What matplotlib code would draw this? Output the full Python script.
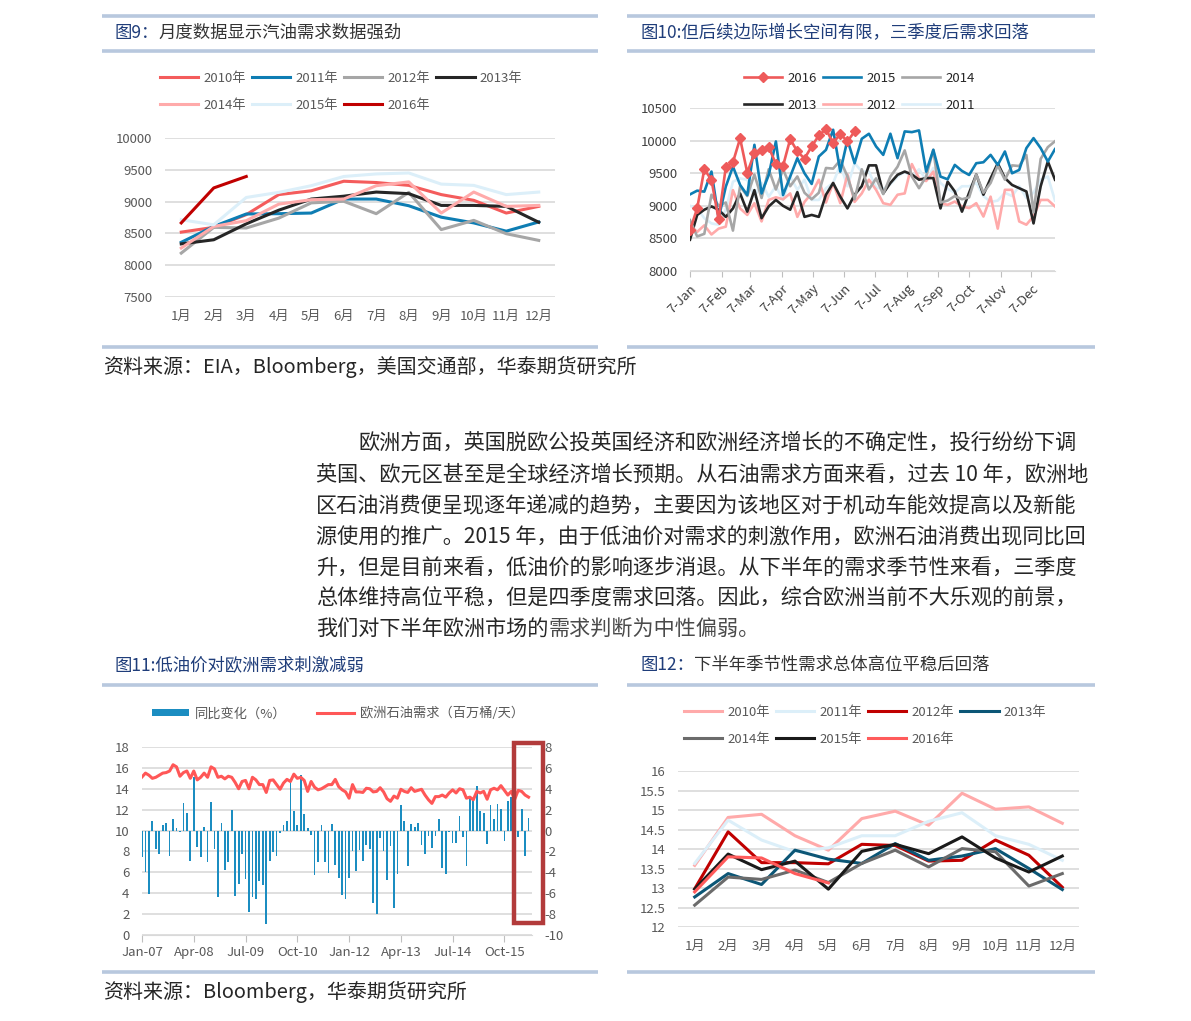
import numpy as np
import matplotlib
matplotlib.use("Agg")
import matplotlib.pyplot as plt
from matplotlib.patches import Rectangle

plt.rcParams["font.family"] = ["Noto Sans CJK SC", "DejaVu Sans"]
plt.rcParams["axes.unicode_minus"] = False

W, H = 1191, 1021

# ── 图9: US gasoline demand, monthly (kb/d) ─────────────────────────────────
month_labels = ["1月", "2月", "3月", "4月", "5月", "6月",
                "7月", "8月", "9月", "10月", "11月", "12月"]
gas_years = ["2010年", "2011年", "2012年", "2013年", "2014年", "2015年", "2016年"]
gas_2010 = [8520, 8595, 8795, 9110, 9170, 9320, 9300, 9255, 9110, 9020, 8820, 8925]
gas_2011 = [8360, 8610, 8805, 8810, 8820, 9040, 9040, 8935, 8755, 8665, 8535, 8680]
gas_2012 = [8190, 8595, 8585, 8740, 8980, 9005, 8810, 9145, 8560, 8705, 8495, 8390]
gas_2013 = [8335, 8400, 8650, 8865, 9040, 9085, 9150, 9125, 8940, 8940, 8925, 8675]
gas_2014 = [8270, 8610, 8700, 8960, 9030, 9040, 9250, 9310, 8820, 9150, 8925, 8940]
gas_2015 = [8715, 8635, 9065, 9145, 9250, 9395, 9435, 9450, 9275, 9255, 9110, 9150]
gas_2016 = [8665, 9215, 9395]

# ── 图10: weekly demand ───────────────────────────────────────────────────
wk_tick_labels = ["7-Jan", "7-Feb", "7-Mar", "7-Apr", "7-May", "7-Jun",
                  "7-Jul", "7-Aug", "7-Sep", "7-Oct", "7-Nov", "7-Dec"]
wk_tick_days = [0, 31, 59, 90, 120, 151, 181, 212, 243, 273, 304, 334]
wk_2016 = [8626, 8960, 9561, 9397, 8790, 9591, 9668, 10033, 9509, 9807, 9858, 9899,
           9643, 9612, 10023, 9833, 9725, 9910, 10079, 10177, 9961, 10105, 9987, 10141]
wk_2015 = [9175, 9232, 9217, 9525, 8806, 9294, 9602, 9320, 9165, 9935, 9190, 9473,
           9987, 9165, 9448, 9730, 9499, 9335, 9756, 9858, 10166, 9525, 10012, 9653,
           10028, 10105, 9910, 9781, 10105, 9730, 10141, 10130, 10156, 9525, 9858, 9448,
           9407, 9627, 9535, 9473, 9653, 9668, 9781, 9627, 9833, 9499, 9550, 9884,
           10038, 9884, 9679, 9869]
wk_2014 = [8780, 8530, 8570, 9170, 9000, 9050, 8620, 9300, 9150, 9480, 9120, 9560,
           9250, 9560, 9300, 9450, 9200, 9100, 9200, 9580, 9570, 9700, 9450, 9100,
           9560, 9250, 9420, 9180, 9450, 9600, 9850, 9450, 9270, 9450, 9860, 9050,
           9080, 9150, 9100, 9130, 9480, 9200, 9350, 9620, 9400, 9620, 9610, 9780,
           8900, 9720, 9900, 9990]
wk_2013 = [8480, 8860, 8940, 8990, 8940, 8830, 8960, 9190, 8910, 9240, 8810, 8990,
           9090, 9000, 8940, 9210, 8830, 8860, 8830, 9170, 9350, 9140, 8960, 9170,
           9300, 9620, 9620, 9190, 9350, 9475, 9525, 9480, 9400, 9425, 9425, 8960,
           9370, 9220, 8910, 9200, 9480, 9170, 9420, 9650, 9425, 9320, 9270, 9220,
           8730, 9300, 9680, 9400]
wk_2012 = [8700, 8600, 8700, 8560, 8650, 8680, 9240, 8960, 8860, 9040, 8760, 9090,
           9130, 9100, 9190, 8830, 9060, 9190, 9400, 9050, 9350, 9040, 9480, 9060,
           9190, 9400, 9245, 9040, 9015, 9170, 9190, 9640, 9420, 9380, 9525, 9040,
           9015, 9065, 8990, 8965, 9040, 8835, 9140, 8650, 9245, 9245, 8760, 8710,
           8840, 9090, 9090, 8990]
wk_2011 = [9000, 8960, 8810, 8730, 8710, 8940, 9370, 9420, 9400, 9140, 9350, 9140,
           9300, 9090, 9450, 9245, 9400, 9090, 9090, 9270, 9350, 9630, 9300, 9655,
           9525, 9525, 9280, 9260, 9330, 9450, 9520, 9450, 9560, 9400, 9580, 9350,
           9260, 9200, 9300, 9300, 9350, 9150, 9060, 9080, 9200, 9150, 9300, 9120,
           9200, 9400, 9450, 9080]

# ── 图11: Europe oil demand (mb/d) and yoy change (%) from Jan-07 ──────────
eu_tick_labels = ["Jan-07", "Apr-08", "Jul-09", "Oct-10",
                  "Jan-12", "Apr-13", "Jul-14", "Oct-15"]
eu_demand = [15.13, 15.5, 15.3, 15.0, 15.1, 15.3, 15.5, 15.55, 15.7, 16.3,
             16.1, 15.2, 15.55, 15.7, 15.0, 15.7, 14.85, 15.1, 15.5, 15.1,
             16.1, 15.9, 15.1, 15.2, 14.95, 15.2, 15.1, 14.6, 14.0, 14.7,
             14.8, 14.0, 15.1, 14.85, 14.4, 14.4, 13.65, 14.8, 14.85, 14.4,
             13.95, 14.55, 14.9, 14.7, 15.4, 15.0, 15.1, 14.8, 13.75, 14.7,
             14.15, 13.9, 14.0, 14.2, 14.4, 14.4, 14.9, 14.2, 13.9, 13.7,
             13.1, 14.4, 13.7, 13.7, 13.65, 14.05, 14.0, 13.7, 13.75, 14.1,
             13.7, 13.05, 12.8, 13.3, 13.1, 13.95, 13.75, 13.65, 14.1, 13.75,
             13.85, 13.95, 13.4, 12.95, 12.6, 13.25, 13.25, 13.4, 13.2, 13.6,
             13.9, 13.6, 14.0, 13.9, 13.1, 13.2, 12.95, 13.75, 13.6, 13.75,
             13.0, 13.9, 14.05, 13.9, 14.3, 13.85, 13.4, 13.75, 13.0, 13.85,
             13.75, 13.4, 13.2]
eu_yoy = [-2.5, -4.0, -6.1, 0.9, -1.8, -2.2, 0.5, 0.7, -2.4, 1.1, 0.2, -0.1,
          2.6, 1.7, -2.9, 5.1, -1.6, -2.5, 0.3, -3.0, 2.7, -1.8, -6.4, 0.7, -3.8, -3.0, 2.0,
          -6.3, -5.1, -2.2, -4.6, -7.8, -6.4, -6.6, -4.8, -5.2, -8.9, -2.9, -2.1, -2.4, -0.2,
          0.5, 0.9, 4.9, 1.9, 0.5, 5.3, 1.6, 0.2, -0.4, -4.3, -3.0, 0.5, -3.0, -4.1, 0.6, -3.3,
          -4.5, -6.2, -6.6, -4.5, -2.0, -3.9, -1.9, -2.9, -1.4, -1.8, -6.9, -8.0, -0.7, -2.0,
          -4.7, -1.5, -7.4, -4.2,
          2.4, 0.9, -3.4, 0.6, 0.3, 0.7, -1.4, -2.2, -0.5, -1.7, -0.5, 1.1, -3.6, -4.2,
          -0.1, -1.2, -1.2, 1.4, -0.6, -3.4,
          3.3, 3.1, 4.3, 1.9, 1.7, -1.3, 2.4, 1.1, 2.5, 2.1, -1.0, 2.8, 3.2, -0.6, -0.6,
          2.1, -2.4, 1.2]

# ── 图12: Europe seasonal demand (mb/d) ─────────────────────────────────────
sea_years = ["2010年", "2011年", "2012年", "2013年", "2014年", "2015年", "2016年"]
sea_2010 = [13.58, 14.81, 14.89, 14.34, 13.97, 14.78, 14.97, 14.61, 15.43, 15.02, 15.08, 14.66]
sea_2011 = [13.63, 14.74, 14.23, 13.93, 14.03, 14.34, 14.34, 14.71, 14.93, 14.34, 14.12, 13.71]
sea_2012 = [12.98, 14.44, 13.65, 13.65, 13.62, 14.12, 14.09, 13.69, 13.71, 14.23, 13.84, 13.02]
sea_2013 = [12.77, 13.37, 13.09, 13.97, 13.74, 13.63, 14.14, 13.71, 13.82, 14.01, 13.50, 12.96]
sea_2014 = [12.56, 13.28, 13.22, 13.46, 13.14, 13.63, 13.97, 13.54, 14.01, 13.93, 13.05, 13.37]
sea_2015 = [12.97, 13.87, 13.47, 13.69, 12.97, 13.94, 14.12, 13.88, 14.31, 13.77, 13.41, 13.82]
sea_2016 = [12.90, 13.80, 13.77, 13.37, 13.13]

paragraph = [
    "欧洲方面，英国脱欧公投英国经济和欧洲经济增长的不确定性，投行纷纷下调",
    "英国、欧元区甚至是全球经济增长预期。从石油需求方面来看，过去 10 年，欧洲地",
    "区石油消费便呈现逐年递减的趋势，主要因为该地区对于机动车能效提高以及新能",
    "源使用的推广。2015 年，由于低油价对需求的刺激作用，欧洲石油消费出现同比回",
    "升，但是目前来看，低油价的影响逐步消退。从下半年的需求季节性来看，三季度",
    "总体维持高位平稳，但是四季度需求回落。因此，综合欧洲当前不大乐观的前景，",
]
paragraph_last = ("我们对下半年欧洲市场的", "需求判断为中性偏弱。")

# ── colours ────────────────────────────────────────────────────────────────
NAVY = "#1F3D7A"
RULE = "#B8C8DE"
GRID = "#D9D9D9"
TICK = "#595959"
RED = "#F45C5C"
BLUE = "#0E7DB3"
GREY = "#A6A6A6"
BLACK = "#262626"
PINK = "#FFAAAA"
ICE = "#DCEFF9"
DKRED = "#C00000"


def box(x0, y0, x1, y1):
    return [x0 / W, 1 - y1 / H, (x1 - x0) / W, (y1 - y0) / H]


def style(ax, color=TICK):
    for s in ax.spines.values():
        s.set_visible(False)
    ax.grid(axis="y", color=GRID, lw=1.2)
    ax.set_axisbelow(True)
    ax.tick_params(length=0, colors=color, labelsize=9.5)
    ax.tick_params(axis="y", pad=9)
    ax.tick_params(axis="x", pad=9)


def legend_rows(ax, order, anchor, ncol, color=TICK, **kw):
    h, l = ax.get_legend_handles_labels()
    ax.legend([h[i] for i in order], [l[i] for i in order], ncol=ncol,
              loc="upper left", bbox_to_anchor=(anchor[0] / W, 1 - anchor[1] / H),
              bbox_transform=fig.transFigure, frameon=False, fontsize=9.5,
              handlelength=2.9, handletextpad=0.4, columnspacing=0.45,
              labelspacing=1.05, borderpad=0, borderaxespad=0, labelcolor=color, **kw)


fig = plt.figure(figsize=(W / 100, H / 100), dpi=100, facecolor="white")

# page layer in pixel coordinates
pg = fig.add_axes([0, 0, 1, 1])
pg.set_xlim(0, W)
pg.set_ylim(H, 0)
pg.axis("off")
pg.set_zorder(10)

for x0, x1 in [(102, 598), (627, 1095)]:
    for y in (16, 51, 347, 685, 972):
        pg.plot([x0, x1], [y, y], color=RULE, lw=2.6, solid_capstyle="butt")

t = pg.text(114, 33, "图9：", color=NAVY, fontsize=12.5, va="center")
pg.annotate("月度数据显示汽油需求数据强劲", xy=(1, 0.5), xycoords=t,
            va="center", fontsize=12.5, color="#333333")
pg.text(640, 33, "图10:但后续边际增长空间有限，三季度后需求回落",
        color=NAVY, fontsize=12.5, va="center")
pg.text(114, 665, "图11:低油价对欧洲需求刺激减弱", color=NAVY, fontsize=12.5, va="center")
t = pg.text(640, 665, "图12：", color=NAVY, fontsize=12.5, va="center")
pg.annotate("下半年季节性需求总体高位平稳后回落", xy=(1, 0.5), xycoords=t,
            va="center", fontsize=12.5, color="#333333")

pg.text(103, 367, "资料来源：EIA，Bloomberg，美国交通部，华泰期货研究所",
        fontsize=14.4, va="center", color="#262626")
pg.text(103, 992, "资料来源：Bloomberg，华泰期货研究所",
        fontsize=14.4, va="center", color="#262626")

line_y = [443, 475, 506, 537, 568, 599]
for i, (y, s) in enumerate(zip(line_y, paragraph)):
    pg.text(358 if i == 0 else 316, y, s, fontsize=15.2, va="center", color="#262626")
t = pg.text(316, 630, paragraph_last[0], fontsize=15.2, va="center", color="#262626")
pg.annotate(paragraph_last[1], xy=(1, 0.5), xycoords=t, va="center",
            fontsize=15.2, color="#4A4A4A")

# ── 图9 ────────────────────────────────────────────────────────────────────
ax1 = fig.add_axes(box(165, 138, 555, 297))
gas = [gas_2010, gas_2011, gas_2012, gas_2013, gas_2014, gas_2015, gas_2016]
gas_cols = [RED, BLUE, GREY, BLACK, PINK, ICE, DKRED]
for vals, lab, c in zip(gas, gas_years, gas_cols):
    ax1.plot(np.arange(len(vals)), vals, color=c, lw=2.2, label=lab)
ax1.set_xlim(-0.5, 11.5)
ax1.set_ylim(7500, 10000)
ax1.set_yticks(np.arange(7500, 10001, 500))
ax1.set_xticks(np.arange(12), month_labels)
style(ax1)
legend_rows(ax1, [0, 4, 1, 5, 2, 6, 3], (160, 72), 4)

# ── 图10 ───────────────────────────────────────────────────────────────────
ax2 = fig.add_axes(box(690, 108, 1055, 271))
wk = [wk_2011, wk_2012, wk_2013, wk_2014, wk_2015]
wk_labels = ["2011", "2012", "2013", "2014", "2015"]
wk_cols = [ICE, PINK, BLACK, GREY, BLUE]
for vals, lab, c in zip(wk, wk_labels, wk_cols):
    ax2.plot(np.arange(len(vals)), vals, color=c, lw=1.9, label=lab)
ax2.plot(np.arange(len(wk_2016)), wk_2016, color="#EE5A5A", lw=1.9, marker="D",
         markersize=5.5, label="2016")
ax2.set_xlim(0, 51)
ax2.set_ylim(8000, 10500)
ax2.set_yticks(np.arange(8000, 10501, 500))
ax2.set_xticks(np.array(wk_tick_days) / 7, wk_tick_labels)
style(ax2, "#404040")
ax2.spines["bottom"].set_visible(True)
ax2.spines["bottom"].set_color(GRID)
ax2.tick_params(axis="x", length=4, color="#BFBFBF", pad=4)
for lbl in ax2.get_xticklabels():
    lbl.set_rotation(45)
    lbl.set_ha("right")
    lbl.set_rotation_mode("anchor")
# legend rows: 2016 2015 2014 / 2013 2012 2011
legend_rows(ax2, [5, 2, 4, 1, 3, 0], (744, 72), 3, color="#262626")

# ── 图11 ───────────────────────────────────────────────────────────────────
ax3 = fig.add_axes(box(142, 747, 532, 935))
ax3r = ax3.twinx()
bars = ax3r.bar(np.arange(len(eu_yoy)), eu_yoy, width=0.5, color="#1B8DC1",
                label="同比变化（%）")
dem, = ax3.plot(np.arange(len(eu_demand)), eu_demand, color="#FF5757", lw=2.2,
                label="欧洲石油需求（百万桶/天）")
ax3.set_zorder(ax3r.get_zorder() + 1)
ax3.patch.set_visible(False)
ax3.set_xlim(0, 113)
ax3.set_ylim(0, 18)
ax3.set_yticks(np.arange(0, 19, 2))
ax3r.set_ylim(-10, 8)
ax3r.set_yticks(np.arange(-10, 9, 2))
ax3.set_xticks(np.arange(len(eu_tick_labels)) * 15, eu_tick_labels)
for a in (ax3, ax3r):
    for s in a.spines.values():
        s.set_visible(False)
    a.tick_params(length=0, colors=TICK, labelsize=9.5, pad=9)
ax3r.grid(axis="y", color=GRID, lw=1.2)
ax3r.set_axisbelow(True)
ax3.spines["bottom"].set_visible(True)
ax3.spines["bottom"].set_color(GRID)
ax3.tick_params(axis="x", length=5, color="#BFBFBF", pad=3)
ax3.legend([bars, dem], [bars.get_label(), dem.get_label()], ncol=2,
           loc="upper left", bbox_to_anchor=(152 / W, 1 - 707 / H),
           bbox_transform=fig.transFigure, frameon=False, fontsize=9.5,
           handlelength=2.8, handleheight=0.5, handletextpad=0.45,
           columnspacing=2.3, borderpad=0, borderaxespad=0, labelcolor=TICK)
pg.add_patch(Rectangle((514, 743), 29, 180, fill=False, ec="#B23B3B", lw=3.2))

# ── 图12 ───────────────────────────────────────────────────────────────────
ax4 = fig.add_axes(box(678, 771, 1079, 927))
sea = [sea_2010, sea_2011, sea_2012, sea_2013, sea_2014, sea_2015, sea_2016]
sea_cols = [PINK, ICE, DKRED, "#0B5676", "#6B6B6B", "#1A1A1A", "#FF5B5B"]
for vals, lab, c in zip(sea, sea_years, sea_cols):
    ax4.plot(np.arange(len(vals)), vals, color=c, lw=2.2, label=lab)
ax4.set_xlim(-0.5, 11.5)
ax4.set_ylim(12, 16)
ax4.set_yticks(np.arange(12, 16.01, 0.5))
ax4.set_yticklabels([f"{v:g}" for v in np.arange(12, 16.01, 0.5)])
ax4.set_xticks(np.arange(12), month_labels)
style(ax4)
legend_rows(ax4, [0, 4, 1, 5, 2, 6, 3], (684, 706), 4)

fig.savefig("out.png", dpi=100, facecolor="white")
